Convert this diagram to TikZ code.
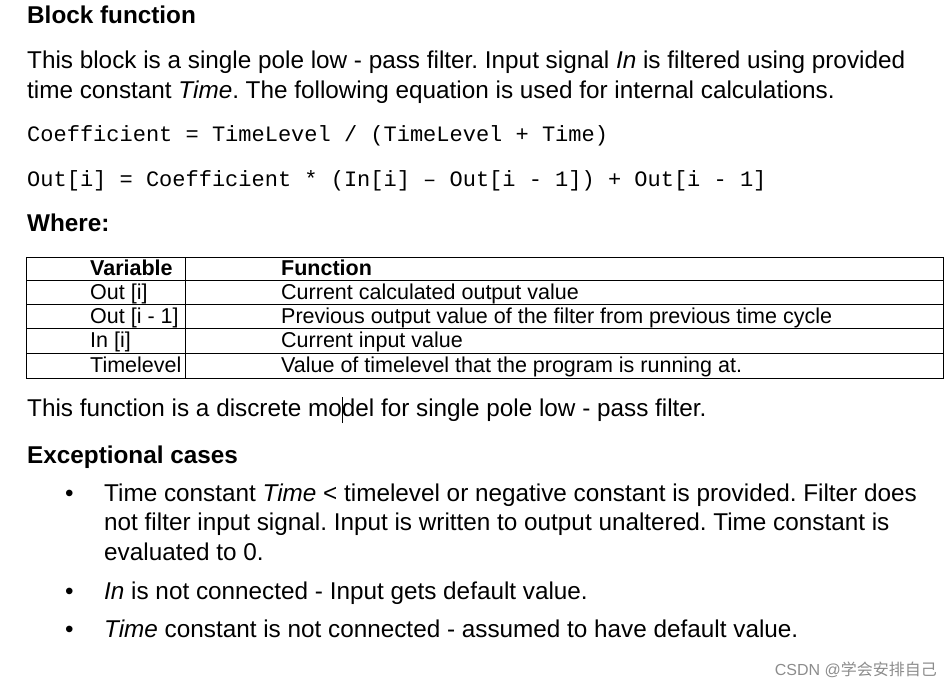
\documentclass[tikz,border=0pt]{standalone}
\usepackage{fontspec}
\setmainfont{Liberation Sans}
\setmonofont{Liberation Mono}
\newfontfamily\cjk{Noto Sans CJK SC}
\frenchspacing
\begin{document}
\begin{tikzpicture}[x=1pt,y=-1pt,
  txt/.style={anchor=base west,inner sep=0pt,font=\fontsize{24.3}{28}\selectfont},
  bld/.style={txt,font=\fontsize{24.3}{28}\selectfont\bfseries},
  code/.style={txt,font=\fontsize{22}{26}\selectfont\ttfamily},
  tab/.style={anchor=base west,inner sep=0pt,font=\fontsize{21.5}{24}\selectfont},
  tabb/.style={tab,font=\fontsize{21.5}{24}\selectfont\bfseries},
  rule/.style={line width=1pt}]
\useasboundingbox (0,0) rectangle (952,689);
\node[bld] (t1) at (27,23) {Block function};
\node[txt] (p1) at (27,68) {This block is a single pole low - pass filter. Input signal \textit{In} is filtered using provided};
\node[txt] (p2) at (27,98) {time constant \textit{Time}. The following equation is used for internal calculations.};
\node[code] (c1) at (27,141) {Coefficient = TimeLevel / (TimeLevel + Time)};
\node[code] (c2) at (27,186) {Out[i] = Coefficient * (In[i] – Out[i - 1]) + Out[i - 1]};
\node[bld] (w) at (27,231) {Where:};
% table
\draw[rule] (26,257) rectangle (943,378);
\foreach \yy in {280,304,328,353} \draw[rule] (26,\yy) -- (943,\yy);
\draw[rule] (185,257) -- (185,378);
\node[tabb] (h1) at (90,275) {Variable};
\node[tabb] (h2) at (281,275) {Function};
\node[tab] (r1a) at (90,299) {Out [i]};
\node[tab] (r1b) at (281,299) {Current calculated output value};
\node[tab] (r2a) at (90,323) {Out [i - 1]};
\node[tab] (r2b) at (281,323) {Previous output value of the filter from previous time cycle};
\node[tab] (r3a) at (90,347) {In [i]};
\node[tab] (r3b) at (281,347) {Current input value};
\node[tab] (r4a) at (90,372) {Timelevel};
\node[tab] (r4b) at (281,372) {Value of timelevel that the program is running at.};
\node[txt] (p3) at (27,416) {This function is a discrete mo\rlap{\rule[-7pt]{0.8pt}{26pt}}del for single pole low - pass filter.};
\node[bld] (e) at (27,463) {Exceptional cases};
\foreach \yy in {501,599,637} \node[txt] at (65,\yy) {•};
\node[txt] (b1) at (104,501) {Time constant \textit{Time} < timelevel or negative constant is provided. Filter does};
\node[txt] (b1b) at (104,530) {not filter input signal. Input is written to output unaltered. Time constant is};
\node[txt] (b1c) at (104,560) {evaluated to 0.};
\node[txt] (b2) at (104,599) {\textit{In} is not connected - Input gets default value.};
\node[txt] (b3) at (104,637) {\textit{Time} constant is not connected - assumed to have default value.};
\node[anchor=base east,inner sep=0pt,text=black!45,font=\fontsize{16}{18}\selectfont] (wm) at (937,675) {CSDN @{\cjk 学会安排自己}};
\end{tikzpicture}
\end{document}
